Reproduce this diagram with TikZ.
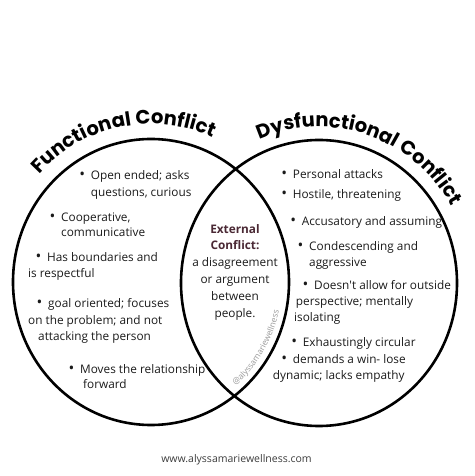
\documentclass[tikz,border=0pt]{standalone}
\usepackage{fontspec}
\setmainfont{Open Sans}
\newfontfamily\titlefont{Poppins}
\usetikzlibrary{decorations.text}
\definecolor{ink}{HTML}{1A1A1A}
\definecolor{extc}{HTML}{4A2834}
\definecolor{mark}{HTML}{9A9A9A}
\definecolor{foot}{HTML}{3C3C3C}
\newcommand{\bul}{\llap{\raisebox{-0.4pt}{\scalebox{1.3}{\textbullet}}\hspace{5.8pt}}}

\begin{document}
\begin{tikzpicture}[x=1pt,y=1pt,
  itm/.style={anchor=base west,inner sep=0pt,text=ink,font=\fontsize{11.8}{16.8}\selectfont},
  ring/.style={line width=2.6pt}]
\useasboundingbox (0,0) rectangle (474,476);
\coordinate (FC) at (151,194);
\coordinate (DC) at (319,193);
\draw[ring] (FC) ellipse [x radius=138,y radius=143];
\draw[ring] (DC) ellipse [x radius=138,y radius=143];
% curved titles
\path[decorate,decoration={text along path,text align=center,
  text={|\titlefont\bfseries\fontsize{19.5}{19.5}\selectfont|Functional Conflict}}]
  (FC) ++(151.5:153 and 158) arc[start angle=151.5,end angle=51.5,x radius=153,y radius=158];
\path[decorate,decoration={text along path,text align=center,
  text={|\titlefont\bfseries\fontsize{19.5}{19.5}\selectfont|Dysfunctional Conflict}}]
  (DC) ++(126.3:152 and 156) arc[start angle=126.3,end angle=16.3,x radius=152,y radius=156];
% functional
\node[itm] (f1a) at (90.7,296.5) {\bul Open ended; asks};
\node[itm] (f1b) at (90.7,279.8) {questions, curious};
\node[itm] (f2a) at (61,254.5) {\bul Cooperative,};
\node[itm] (f2b) at (61,239.5) {communicative};
\node[itm] (f3a) at (47,214.5) {\bul Has boundaries and};
\node[itm] (f3b) at (28,198.5) {is respectful};
\node[itm] (f4a) at (48,168.5) {\bul goal oriented; focuses};
\node[itm] (f4b) at (28,151) {on the problem; and not};
\node[itm] (f4c) at (38,135.5) {attacking the person};
\node[itm] (f5a) at (80,102.5) {\bul Moves the relationship};
\node[itm] (f5b) at (83,87.5) {forward};
% dysfunctional
\node[itm] (d1) at (292.7,297.5) {\bul Personal attacks};
\node[itm] (d2) at (292.7,277.5) {\bul Hostile, threatening};
\node[itm] (d3) at (301.7,250.8) {\bul Accusatory and assuming};
\node[itm] (d4a) at (309,225.5) {\bul Condescending and};
\node[itm] (d4b) at (309,209.8) {aggressive};
\node[itm] (d5a) at (314,186.5) {\bul Doesn\textquotesingle t allow for outside};
\node[itm] (d5b) at (295.7,170) {perspective; mentally};
\node[itm] (d5c) at (294,154.5) {isolating};
\node[itm] (d6) at (302.7,129.5) {\bul Exhaustingly circular};
\node[itm] (d7a) at (292.7,112.5) {\bul demands a win- lose};
\node[itm] (d7b) at (272.7,96.5) {dynamic; lacks empathy};
% overlap
\node[align=center,anchor=north,inner sep=0pt,text=ink,font=\fontsize{11.8}{16.8}\selectfont] (ext) at (235,252)
  {{\color{extc}\bfseries External}\\{\color{extc}\bfseries Conflict:}\\a disagreement\\or argument\\between\\people.};
\path[decorate,decoration={text along path,text align=center,text color=mark,
  text={|\fontsize{8.5}{8.5}\selectfont|@alyssamariewellness}}]
  (FC) ++(-55:131 and 136) arc[start angle=-55,end angle=-7,x radius=131,y radius=136];
\node[text=foot,font=\fontsize{10.5}{12}\selectfont] (web) at (236.5,16) {www.alyssamariewellness.com};
\end{tikzpicture}
\end{document}
